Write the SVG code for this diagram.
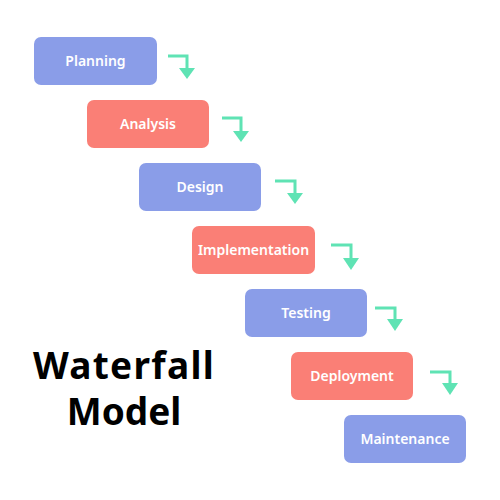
<svg xmlns="http://www.w3.org/2000/svg" width="500" height="500" viewBox="0 0 500 500">
<style>
.blue{fill:#8a9de8}
.red{fill:#fa7f76}
.lbl{font-family:"Noto Sans","DejaVu Sans",sans-serif;font-weight:600;font-size:14px;fill:#ffffff;text-anchor:middle;dominant-baseline:central}
.title{font-family:"Noto Sans","DejaVu Sans",sans-serif;font-weight:700;font-size:37px;fill:#000000;text-anchor:middle}
.conn{fill:none;stroke:#5fe3b4;stroke-width:3}
.head{fill:#5fe3b4}
</style>
<rect width="500" height="500" fill="#ffffff"/>
<g id="planning"><rect class="blue" x="34" y="37" width="123" height="48" rx="7"/><text class="lbl" x="95.5" y="60">Planning</text></g>
<g id="analysis"><rect class="red" x="87" y="100" width="122" height="48" rx="7"/><text class="lbl" x="148" y="123">Analysis</text></g>
<g id="design"><rect class="blue" x="139" y="163" width="122" height="48" rx="7"/><text class="lbl" x="200" y="186">Design</text></g>
<g id="implementation"><rect class="red" x="192" y="226" width="123" height="48" rx="7"/><text class="lbl" x="253.5" y="249">Implementation</text></g>
<g id="testing"><rect class="blue" x="245" y="289" width="122" height="48" rx="7"/><text class="lbl" x="306" y="312">Testing</text></g>
<g id="deployment"><rect class="red" x="291" y="352" width="122" height="48" rx="7"/><text class="lbl" x="352" y="375">Deployment</text></g>
<g id="maintenance"><rect class="blue" x="344" y="415" width="122" height="48" rx="7"/><text class="lbl" x="405" y="438">Maintenance</text></g>
<g id="connectors">
<path class="conn" d="M168 56 H187 V70"/><polygon class="head" points="179,68 195,68 187,79"/>
<path class="conn" d="M222 118 H241 V133"/><polygon class="head" points="233,131 249,131 241,142"/>
<path class="conn" d="M275 181 H295 V195"/><polygon class="head" points="287,193 303,193 295,204"/>
<path class="conn" d="M331 245 H351 V260"/><polygon class="head" points="343,258 359,258 351,270"/>
<path class="conn" d="M375 308 H395 V321"/><polygon class="head" points="387,319 403,319 395,331"/>
<path class="conn" d="M430 372 H450 V385"/><polygon class="head" points="442,383 458,383 450,395"/>
</g>
<g id="title">
<text class="title" x="124" y="379" letter-spacing="1.3">Waterfall</text>
<text class="title" x="124" y="425">Model</text>
</g>
</svg>
